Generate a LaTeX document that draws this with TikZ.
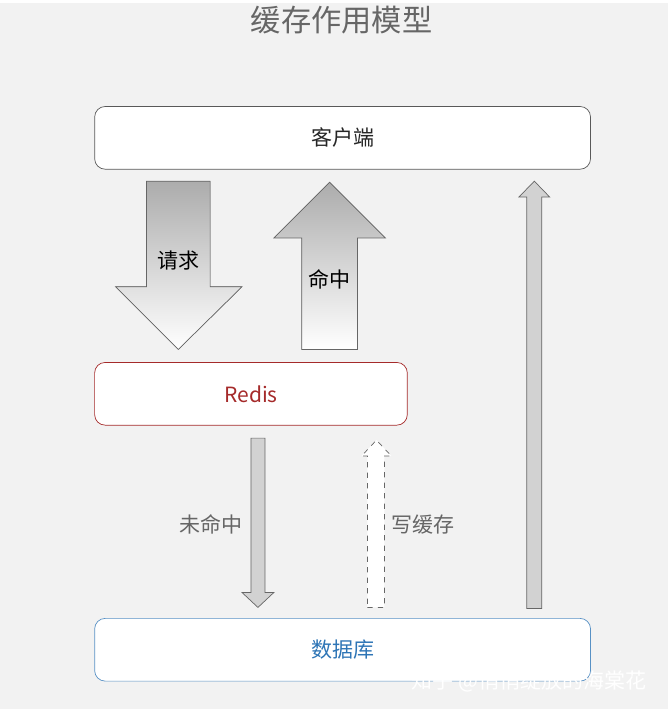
\documentclass[tikz,border=0pt]{standalone}
\usepackage{fontspec}
\setmainfont{Noto Sans CJK SC}
\definecolor{bggray}{HTML}{F2F2F2}
\definecolor{redisred}{HTML}{A52A2A}
\definecolor{dbblue}{HTML}{2E75B6}
\tikzset{
  box/.style={draw, rounded corners=6pt, fill=white, minimum width=9.96cm, minimum height=1.26cm, font=\large},
  fatarrow/.style={draw=gray!80!black, top color=gray!65, bottom color=white},
  slimarrow/.style={draw=gray!80!black, fill=gray!35}
}
\begin{document}
\begin{tikzpicture}[x=0.02cm,y=-0.02cm]
\fill[bggray] (0,0) rectangle (671,709);
\node[text=gray!80!black, font=\LARGE] (title) at (343,17) {缓存作用模型};
% boxes
\node[box, draw=gray!70!black, text=gray!30!black] (client) at (344,135.5) {客户端};
\node[box, draw=redisred, text=redisred, minimum width=6.28cm] (redis) at (252,392.5) {Redis};
\node[box, draw=dbblue!80, text=dbblue] (db) at (344,649.5) {数据库};
% big arrows
\filldraw[fatarrow] (147,179) -- (211,179) -- (211,285) -- (243,285) -- (179,348) -- (116,285) -- (147,285) -- cycle;
\node[font=\large] (req) at (179,259) {请求};
\filldraw[fatarrow] (303,348) -- (359,348) -- (359,236) -- (387,236) -- (331,180) -- (275,236) -- (303,236) -- cycle;
\node[font=\large] (hit) at (331,278) {命中};
% slim arrows
\filldraw[slimarrow] (252,437) -- (266,437) -- (266,592) -- (275,592) -- (259,607) -- (243,592) -- (252,592) -- cycle;
\node[text=gray!80!black, font=\large] (miss) at (212,524) {未命中};
\draw[gray!80!black, dashed, fill=white] (369,607) -- (386,607) -- (386,455) -- (393,455) -- (378,439) -- (363,455) -- (369,455) -- cycle;
\node[text=gray!80!black, font=\large] (write) at (425,524) {写缓存};
\filldraw[slimarrow] (529,608) -- (544,608) -- (544,195) -- (552,195) -- (536.5,179) -- (521,195) -- (529,195) -- cycle;
% watermark
\node[text=white, font=\large, anchor=east] (mark) at (655,681) {知乎 @悄悄绽放的海棠花};
\end{tikzpicture}
\end{document}
